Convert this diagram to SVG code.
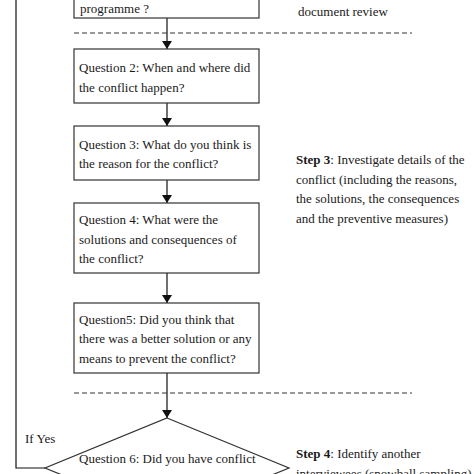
<svg xmlns="http://www.w3.org/2000/svg" width="474" height="474" viewBox="0 0 474 474">
<defs>
<marker id="ah" viewBox="0 0 8 10" refX="8" refY="5" markerWidth="8" markerHeight="10" markerUnits="userSpaceOnUse" orient="auto">
<path d="M0,0 L8,5 L0,10 Z" fill="#111"/>
</marker>
<style>
.box{fill:#fff;stroke:#333;stroke-width:1.2}
.t{font-family:"Liberation Serif","Times New Roman",serif;font-size:13px;fill:#1a1a1a}
.b{font-weight:bold}
.c{fill:none;stroke:#111;stroke-width:1.2}
.d{fill:none;stroke:#333;stroke-width:1.2;stroke-dasharray:5,3}
</style>
</defs>
<rect width="474" height="474" fill="#fff"/>
<g id="connectors">
<line class="c" x1="167" y1="18" x2="167" y2="49" marker-end="url(#ah)"/>
<line class="c" x1="167" y1="103" x2="167" y2="126" marker-end="url(#ah)"/>
<line class="c" x1="167" y1="180" x2="167" y2="203" marker-end="url(#ah)"/>
<line class="c" x1="167" y1="273" x2="167" y2="303" marker-end="url(#ah)"/>
<line class="c" x1="167" y1="373" x2="167" y2="418" marker-end="url(#ah)"/>
<polyline class="c" points="45,468 16,468 16,0"/>
<text class="t" x="25" y="443">If Yes</text>
</g>
<g id="dividers">
<line class="d" x1="74" y1="33" x2="412" y2="33"/>
<line class="d" x1="74" y1="393" x2="412" y2="393"/>
</g>
<g id="q1">
<rect class="box" x="74" y="-40" width="185" height="58"/>
<text class="t" x="80" y="13">programme ?</text>
</g>
<g id="step2-label">
<text class="t" x="298" y="16">document review</text>
</g>
<g id="q2">
<rect class="box" x="74" y="49" width="185" height="54"/>
<text class="t" x="79" y="72">Question 2: When and where did</text>
<text class="t" x="79" y="92">the conflict happen?</text>
</g>
<g id="q3">
<rect class="box" x="74" y="126" width="185" height="54"/>
<text class="t" x="79" y="149">Question 3: What do you think is</text>
<text class="t" x="79" y="168">the reason for the conflict?</text>
</g>
<g id="step3">
<text class="t" x="296" y="164"><tspan class="b">Step 3</tspan>: Investigate details of the</text>
<text class="t" x="296" y="184">conflict (including the reasons,</text>
<text class="t" x="296" y="203">the solutions, the consequences</text>
<text class="t" x="296" y="223">and the preventive measures)</text>
</g>
<g id="q4">
<rect class="box" x="74" y="203" width="185" height="70"/>
<text class="t" x="79" y="224">Question 4: What were the</text>
<text class="t" x="79" y="244">solutions and consequences of</text>
<text class="t" x="79" y="263">the conflict?</text>
</g>
<g id="q5">
<rect class="box" x="74" y="303" width="185" height="70"/>
<text class="t" x="79" y="324">Question5: Did you think that</text>
<text class="t" x="79" y="343">there was a better solution or any</text>
<text class="t" x="79" y="363">means to prevent the conflict?</text>
</g>
<g id="q6">
<polygon class="box" points="167,418 289,468 167,518 45,468"/>
<text class="t" x="79" y="463">Question 6: Did you have conflict</text>
</g>
<g id="step4">
<text class="t" x="296" y="458"><tspan class="b">Step 4</tspan>: Identify another</text>
<text class="t" x="296" y="478">interviewees (snowball sampling)</text>
</g>
</svg>
